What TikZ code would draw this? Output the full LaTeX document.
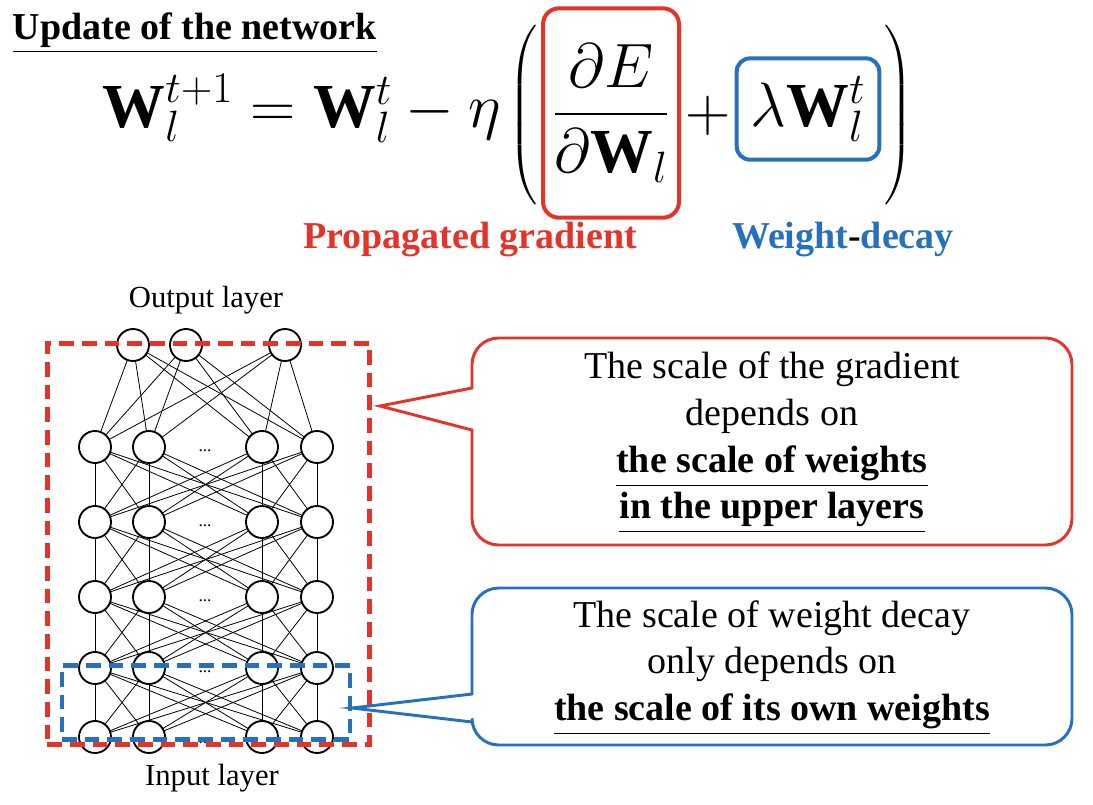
\documentclass[tikz,border=0pt]{standalone}
\usepackage{fix-cm}
\usepackage{amsmath}
\usepackage{fontspec}
\setmainfont{Liberation Serif}
\definecolor{myred}{RGB}{228,52,42}
\definecolor{myblue}{RGB}{38,112,190}
\begin{document}
\begin{tikzpicture}[x=0.75pt,y=-0.75pt,
  neuron/.style={circle,draw,line width=1.4pt,fill=white,minimum size=24pt,inner sep=0pt},
  edge/.style={line width=0.6pt},
  reddash/.style={draw=myred,line width=3.6pt,dash pattern=on 11pt off 6pt},
  bluedash/.style={draw=myblue,line width=3.6pt,dash pattern=on 11pt off 6pt},
  callout/.style={line width=2.2pt},
  ctext/.style={font=\fontsize{28.5}{35}\selectfont,align=center},
  lbl/.style={font=\fontsize{23}{25}\selectfont},
  big/.style={font=\fontsize{47}{50}\selectfont}]
\useasboundingbox (0,0) rectangle (1093,804);
% title
\node[anchor=west,font=\fontsize{28.5}{30}\selectfont\bfseries] (title) at (8,33) {\underline{Update of the network}};
% formula
\node[anchor=base west,big] (lhs) at (98,127) {$\mathbf{W}_l^{t+1} = \mathbf{W}_l^t - \eta$};
\node[big] (lp) at (524,115) {$\left(\vcenter{\hbox{\rule{0pt}{125pt}}}\right.$};
\node[draw=myred,line width=3pt,rounded corners=12pt,minimum width=102pt,minimum height=157pt,big] (grad) at (611,113) {$\dfrac{\partial E}{\partial\mathbf{W}_l}$};
\node[big] (plus) at (708,116) {$+$};
\node[draw=myblue,line width=3pt,rounded corners=10pt,minimum width=107pt,minimum height=76pt,big] (wd) at (808,109) {$\lambda\mathbf{W}_l^t$};
\node[big] (rp) at (898,115) {$\left.\vcenter{\hbox{\rule{0pt}{125pt}}}\right)$};
\node[font=\fontsize{28.5}{30}\selectfont\bfseries,text=myred] (pg) at (470,240) {Propagated gradient};
\node[font=\fontsize{28.5}{30}\selectfont\bfseries,text=myblue] (wdl) at (843,240) {Weight\textcolor{black}{-}decay};
% network
\foreach \x [count=\i] in {133,186,285} \coordinate (o\i) at (\x,345);
\foreach \y [count=\j] in {447,522,597,668,737}
  \foreach \x [count=\i] in {95,149,262,317} \coordinate (h\j\i) at (\x,\y);
\foreach \i in {1,2,3} \foreach \k in {1,2,3,4} \draw[edge] (o\i) -- (h1\k);
\foreach \j [evaluate=\j as \jn using int(\j+1)] in {1,2,3,4}
  \foreach \i in {1,2,3,4} \foreach \k in {1,2,3,4} \draw[edge] (h\j\i) -- (h\jn\k);
\foreach \i in {1,2,3} \node[neuron] (O\i) at (o\i) {};
\foreach \j in {1,...,5} {
  \foreach \i in {1,2,3,4} \node[neuron] (H\j\i) at (h\j\i) {};
}
\foreach \y [count=\j] in {451,526,601,672,743} \node[font=\fontsize{13}{13}\selectfont,fill=white,inner sep=0.5pt] (dots\j) at (205,\y) {...};
\node[reddash,minimum width=242pt,minimum height=301pt] (redbox) at (208.5,544) {};
\node[bluedash,minimum width=216pt,minimum height=56pt] (bluebox) at (206,702.5) {};
\node[lbl] (out) at (206,300) {Output layer};
\node[lbl] (in) at (212,778) {Input layer};
% callouts
\coordinate (rt) at (380,406);
\coordinate (bt) at (352,708);
\draw[myred,callout] (472,430) -- (rt) -- (472,388) [rounded corners=20pt] -- (472,338) -- (1072,338) -- (1072,545) -- (472,545) [sharp corners] -- cycle;
\draw[myblue,callout] (472,722) -- (bt) -- (472,694) [rounded corners=20pt] -- (472,588) -- (1072,588) -- (1072,745) -- (472,745) [sharp corners] -- cycle;
\node[ctext] (t1) at (772,443) {The scale of the gradient\\depends on\\\textbf{\underline{the scale of weights}}\\\textbf{\underline{in the upper layers}}};
\node[ctext] (t2) at (772,668) {The scale of weight decay\\only depends on\\\textbf{\underline{the scale of its own weights}}};
\end{tikzpicture}
\end{document}
